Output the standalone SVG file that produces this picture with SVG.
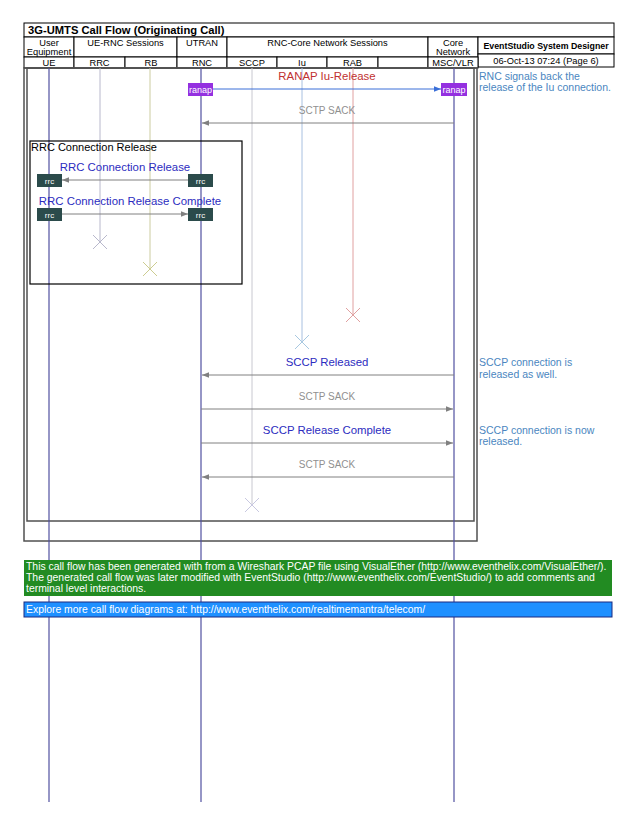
<svg xmlns="http://www.w3.org/2000/svg" width="638" height="826" viewBox="0 0 638 826">
<defs>
<marker id="ah" viewBox="0 0 10 10" refX="10" refY="5" markerWidth="7" markerHeight="7" orient="auto-start-reverse" markerUnits="userSpaceOnUse"><path d="M0,1 L10,5 L0,9 z" fill="#808080"/></marker>
<marker id="ahb" viewBox="0 0 10 10" refX="10" refY="5" markerWidth="7" markerHeight="7" orient="auto" markerUnits="userSpaceOnUse"><path d="M0,1 L10,5 L0,9 z" fill="#3a6fd8"/></marker>
<style>
text{font-family:"Liberation Sans",Arial,sans-serif}
.hd{font-size:9.3px;fill:#000;text-anchor:middle}
.cell{fill:#fff;stroke:#000;stroke-width:1}
.frame{fill:none;stroke:#505050;stroke-width:1.5}
.msg{stroke:#808080;stroke-width:1;fill:none}
.lbl{font-size:11.4px;text-anchor:middle}
.sack{font-size:10px;fill:#909090;text-anchor:middle}
.blue{fill:#2c2cc0}
.cmt{font-size:10.5px;fill:#4a86c0}
.rrc{fill:#2b4b4b}
.rrct{font-size:8px;fill:#fff;text-anchor:middle}
.ranap{fill:#9430e0}
.ranapt{font-size:9px;fill:#fff;text-anchor:middle}
.x{stroke-width:1;fill:none}
</style>
</defs>
<rect width="638" height="826" fill="#fff"/>

<g id="header">
<rect class="cell" x="24" y="23" width="590" height="14"/>
<text x="28" y="34" style="font-size:11.2px;font-weight:bold">3G-UMTS Call Flow (Originating Call)</text>
<rect class="cell" x="24" y="37" width="50" height="20"/>
<text class="hd" x="49" y="45.5">User</text><text class="hd" x="49" y="55">Equipment</text>
<rect class="cell" x="74" y="37" width="103" height="20"/>
<text class="hd" x="125.5" y="46">UE-RNC Sessions</text>
<rect class="cell" x="177" y="37" width="50" height="20"/>
<text class="hd" x="202" y="46">UTRAN</text>
<rect class="cell" x="227" y="37" width="201" height="20"/>
<text class="hd" x="327.5" y="46">RNC-Core Network Sessions</text>
<rect class="cell" x="428" y="37" width="50" height="20"/>
<text class="hd" x="453" y="45.5">Core</text><text class="hd" x="453" y="55">Network</text>
<rect class="cell" x="478" y="37" width="136" height="17"/>
<text class="hd" x="546" y="49" style="font-weight:bold;font-size:8.8px">EventStudio System Designer</text>
<rect class="cell" x="478" y="54" width="136" height="13"/>
<text class="hd" x="546" y="64">06-Oct-13 07:24 (Page 6)</text>
<rect class="cell" x="24" y="57" width="50" height="11"/><text class="hd" x="49" y="65.5">UE</text>
<rect class="cell" x="74" y="57" width="51" height="11"/><text class="hd" x="99.5" y="65.5">RRC</text>
<rect class="cell" x="125" y="57" width="52" height="11"/><text class="hd" x="151" y="65.5">RB</text>
<rect class="cell" x="177" y="57" width="50" height="11"/><text class="hd" x="202" y="65.5">RNC</text>
<rect class="cell" x="227" y="57" width="50" height="11"/><text class="hd" x="252" y="65.5">SCCP</text>
<rect class="cell" x="277" y="57" width="50" height="11"/><text class="hd" x="302" y="65.5">Iu</text>
<rect class="cell" x="327" y="57" width="51" height="11"/><text class="hd" x="352.5" y="65.5">RAB</text>
<rect class="cell" x="378" y="57" width="50" height="11"/>
<rect class="cell" x="428" y="57" width="50" height="11"/><text class="hd" x="453" y="65.5">MSC/VLR</text>
</g>

<g id="frame">
<rect class="frame" x="24" y="68" width="453" height="473"/>
<rect class="frame" x="27" y="68" width="447" height="453"/>
</g>

<g id="lifelines">
<line x1="100" y1="68" x2="100" y2="242" stroke="#b8b8cc"/>
<line x1="150" y1="68" x2="150" y2="269" stroke="#cccca0"/>
<line x1="252" y1="68" x2="252" y2="505" stroke="#c8c8d0"/>
<line x1="302" y1="68" x2="302" y2="342" stroke="#a8c0e0"/>
<line x1="353" y1="68" x2="353" y2="315" stroke="#e0a0a0"/>
<line x1="49" y1="68" x2="49" y2="802" stroke="#5050a0" stroke-width="1.2"/>
<line x1="201" y1="68" x2="201" y2="802" stroke="#5050a0" stroke-width="1.2"/>
<line x1="454" y1="68" x2="454" y2="802" stroke="#5050a0" stroke-width="1.2"/>
</g>

<g id="ends">
<path class="x" stroke="#b8b8cc" d="M93,235 L107,249 M107,235 L93,249"/>
<path class="x" stroke="#cccc90" d="M143,262 L157,276 M157,262 L143,276"/>
<path class="x" stroke="#e0a0a0" d="M346,308 L360,322 M360,308 L346,322"/>
<path class="x" stroke="#a8c8e0" d="M295,335 L309,349 M309,335 L295,349"/>
<path class="x" stroke="#c8c8e0" d="M245,498 L259,512 M259,498 L245,512"/>
</g>

<g id="rrc-box">
<rect x="30" y="141" width="212" height="143" fill="none" stroke="#000" stroke-width="1.2"/>
<text x="31" y="151" style="font-size:11px;fill:#000">RRC Connection Release</text>
</g>

<g id="connectors">
<line x1="213" y1="89" x2="441" y2="89" stroke="#3a6fd8" stroke-width="1" marker-end="url(#ahb)"/>
<line class="msg" x1="454" y1="123" x2="202" y2="123" marker-end="url(#ah)"/>
<line class="msg" x1="188" y1="180" x2="62" y2="180" marker-end="url(#ah)"/>
<line class="msg" x1="62" y1="214" x2="188" y2="214" marker-end="url(#ah)"/>
<line class="msg" x1="454" y1="375" x2="202" y2="375" marker-end="url(#ah)"/>
<line class="msg" x1="201" y1="409" x2="453" y2="409" marker-end="url(#ah)"/>
<line class="msg" x1="201" y1="443" x2="453" y2="443" marker-end="url(#ah)"/>
<line class="msg" x1="454" y1="477" x2="202" y2="477" marker-end="url(#ah)"/>
</g>

<g id="msg-ranap">
<text class="lbl" x="327" y="80" fill="#c03030">RANAP Iu-Release</text>
<rect class="ranap" x="188" y="83" width="25" height="13"/><text class="ranapt" x="200.5" y="93">ranap</text>
<rect class="ranap" x="441" y="83" width="26" height="13"/><text class="ranapt" x="454" y="93">ranap</text>
</g>
<g id="msg-sack1"><text class="sack" x="327" y="114">SCTP SACK</text></g>
<g id="msg-rrc-release">
<text class="lbl blue" x="125" y="171">RRC Connection Release</text>
<rect class="rrc" x="37" y="174" width="25" height="13"/><text class="rrct" x="49.5" y="184">rrc</text>
<rect class="rrc" x="188" y="174" width="25" height="13"/><text class="rrct" x="200.5" y="184">rrc</text>
</g>
<g id="msg-rrc-complete">
<text class="lbl blue" x="130" y="205">RRC Connection Release Complete</text>
<rect class="rrc" x="37" y="208" width="25" height="13"/><text class="rrct" x="49.5" y="218">rrc</text>
<rect class="rrc" x="188" y="208" width="25" height="13"/><text class="rrct" x="200.5" y="218">rrc</text>
</g>
<g id="msg-sccp-released"><text class="lbl blue" x="327" y="366">SCCP Released</text></g>
<g id="msg-sack2"><text class="sack" x="327" y="400">SCTP SACK</text></g>
<g id="msg-sccp-complete"><text class="lbl blue" x="327" y="434">SCCP Release Complete</text></g>
<g id="msg-sack3"><text class="sack" x="327" y="468">SCTP SACK</text></g>

<g id="comments">
<text class="cmt" x="479" y="80">RNC signals back the</text>
<text class="cmt" x="479" y="91">release of the Iu connection.</text>
<text class="cmt" x="479" y="366">SCCP connection is</text>
<text class="cmt" x="479" y="378">released as well.</text>
<text class="cmt" x="479" y="434">SCCP connection is now</text>
<text class="cmt" x="479" y="445">released.</text>
</g>

<g id="footer-green">
<rect x="24" y="560" width="588" height="36" fill="#228b22"/>
<text x="26" y="570" style="font-size:10.4px;fill:#fff">This call flow has been generated with from a Wireshark PCAP file using VisualEther (http://www.eventhelix.com/VisualEther/).</text>
<text x="26" y="581" style="font-size:10.4px;fill:#fff">The generated call flow was later modified with EventStudio (http://www.eventhelix.com/EventStudio/) to add comments and</text>
<text x="26" y="592" style="font-size:10.4px;fill:#fff">terminal level interactions.</text>
</g>
<g id="footer-blue">
<rect x="24" y="602" width="588" height="15" fill="#1e90ff" stroke="#1a2a80" stroke-width="1"/>
<text x="26" y="613" style="font-size:10.4px;fill:#fff">Explore more call flow diagrams at: http://www.eventhelix.com/realtimemantra/telecom/</text>
</g>
</svg>
